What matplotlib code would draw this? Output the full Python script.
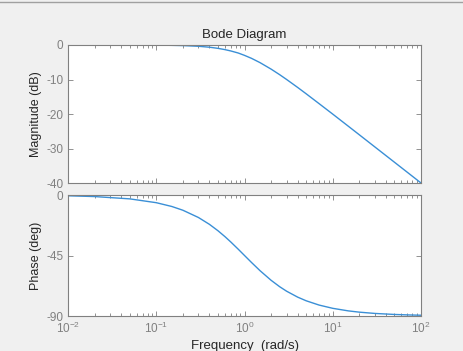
import numpy as np
import matplotlib
matplotlib.use("Agg")
import matplotlib.pyplot as plt
from matplotlib.lines import Line2D
from matplotlib.ticker import LogLocator, NullFormatter

# Frequency samples (rad/s) and values
freq = [0.01, 0.02, 0.05, 0.1, 0.15, 0.2, 0.3, 0.4, 0.5, 0.6, 0.7, 0.85, 1.0,
        1.2, 1.5, 2.0, 2.5, 3.0, 4.0, 5.0, 7.0, 10.0, 15.0, 20.0, 30.0, 50.0,
        70.0, 100.0]
mag_db = [0.0, 0.0, -0.01, -0.04, -0.1, -0.17, -0.37, -0.64, -0.97, -1.34,
          -1.73, -2.33, -3.01, -3.87, -5.12, -6.99, -8.6, -10.0, -12.3, -14.15,
          -17.0, -20.04, -23.54, -26.03, -29.55, -33.98, -36.9, -40.0]
phase_deg = [-0.57, -1.15, -2.86, -5.71, -8.53, -11.31, -16.7, -21.8, -26.57,
             -30.96, -34.99, -40.36, -45.0, -50.19, -56.31, -63.43, -68.2,
             -71.57, -75.96, -78.69, -81.87, -84.29, -86.19, -87.14, -88.09,
             -88.85, -89.18, -89.43]

mag_ticks = [0, -10, -20, -30, -40]
phase_ticks = [0, -45, -90]

LINE = "#3A8FD6"
BG = "#F0F0F0"
AX_COL = "#808080"
TXT = "#262626"

plt.rcParams["font.family"] = ["Liberation Sans", "DejaVu Sans"]

fig = plt.figure(figsize=(4.64, 3.51), dpi=100, facecolor=BG)
fig.add_artist(Line2D([0, 1], [0.994, 0.994], color="#A0A0A0", lw=1.0))

ax1 = fig.add_axes([0.1466, 0.4786, 0.7608, 0.3932])
ax2 = fig.add_axes([0.1466, 0.0997, 0.7608, 0.3447])

for ax in (ax1, ax2):
    ax.set_xscale("log")
    ax.set_xlim(0.01, 100)
    ax.xaxis.set_major_locator(LogLocator(base=10, numticks=10))
    ax.xaxis.set_minor_locator(LogLocator(base=10, subs=np.arange(2, 10), numticks=10))
    ax.xaxis.set_minor_formatter(NullFormatter())
    ax.tick_params(which="both", direction="in", top=True, right=True,
                   colors=AX_COL, labelcolor=AX_COL, labelsize=8.5)
    ax.tick_params(which="major", length=3.5, width=0.6)
    ax.tick_params(which="minor", length=2, width=0.6)
    for s in ax.spines.values():
        s.set_color(AX_COL)
        s.set_linewidth(0.8)

ax1.plot(freq, mag_db, color=LINE, lw=1.0)
ax1.set_ylim(-40, 0)
ax1.set_yticks(mag_ticks)
ax1.set_yticklabels([str(t) for t in mag_ticks])
ax1.tick_params(axis="x", labelbottom=False)
ax1.set_ylabel("Magnitude (dB)", fontsize=9, color=TXT, labelpad=3)
ax1.set_title("Bode Diagram", fontsize=9.5, color=TXT, pad=5)

ax2.plot(freq, phase_deg, color=LINE, lw=1.0)
ax2.set_ylim(-90, 0)
ax2.set_yticks(phase_ticks)
ax2.set_yticklabels([str(t) for t in phase_ticks])
ax2.set_ylabel("Phase (deg)", fontsize=9, color=TXT, labelpad=3)
ax2.set_xlabel("Frequency  (rad/s)", fontsize=9.5, color=TXT, labelpad=3)

fig.savefig("out.png", dpi=100, facecolor=BG)
